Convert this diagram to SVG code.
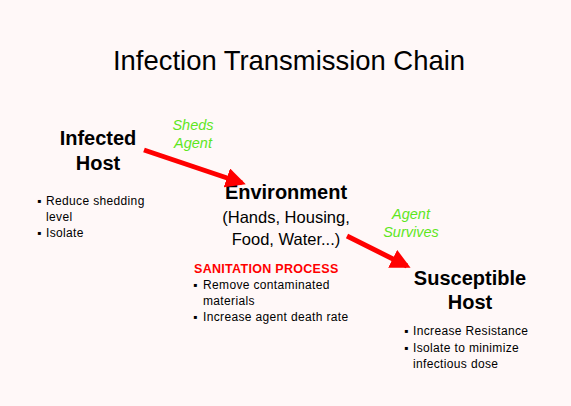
<svg xmlns="http://www.w3.org/2000/svg" width="571" height="406" viewBox="0 0 571 406">
<defs>
<style>
text{font-family:"Liberation Sans",Arial,sans-serif;fill:#000}
.title{font-size:28px}
.node{font-size:20px;font-weight:bold;text-anchor:middle}
.sub{font-size:16.5px;text-anchor:middle}
.lbl{font-size:14.5px;font-style:italic;fill:#5EE61E;text-anchor:middle}
.b{font-size:12px;letter-spacing:0.35px}
.red{font-size:12.5px;font-weight:bold;fill:#FF0000;letter-spacing:0.3px}
.arrow{stroke:#FF0000;stroke-width:5;fill:none}
</style>
<marker id="ah" viewBox="0 0 10 10" refX="8" refY="5" markerWidth="4" markerHeight="4" orient="auto" markerUnits="strokeWidth">
<path d="M0,0 L10,5 L0,10 z" fill="#FF0000"/>
</marker>
</defs>
<rect width="571" height="406" fill="#FFF8F8"/>
<text class="title" x="289" y="70" text-anchor="middle" textLength="352" lengthAdjust="spacingAndGlyphs">Infection Transmission Chain</text>
<g id="infected-host">
<text class="node" x="98" y="145">Infected</text>
<text class="node" x="98" y="170">Host</text>
<text class="b" x="37" y="205">▪</text><text class="b" x="46" y="205">Reduce shedding</text>
<text class="b" x="46" y="221">level</text>
<text class="b" x="37" y="237">▪</text><text class="b" x="46" y="237">Isolate</text>
</g>
<g id="environment">
<text class="node" x="286" y="199">Environment</text>
<text class="sub" x="286" y="223">(Hands, Housing,</text>
<text class="sub" x="286" y="245">Food, Water...)</text>
<text class="red" x="194" y="273">SANITATION PROCESS</text>
<text class="b" x="193" y="289">▪</text><text class="b" x="203" y="289">Remove contaminated</text>
<text class="b" x="203" y="305">materials</text>
<text class="b" x="193" y="321">▪</text><text class="b" x="203" y="321">Increase agent death rate</text>
</g>
<g id="susceptible-host">
<text class="node" x="470" y="285">Susceptible</text>
<text class="node" x="470" y="309">Host</text>
<text class="b" x="404" y="335">▪</text><text class="b" x="413" y="335">Increase Resistance</text>
<text class="b" x="404" y="352">▪</text><text class="b" x="413" y="352">Isolate to minimize</text>
<text class="b" x="413" y="368">infectious dose</text>
</g>
<g id="connectors">
<line class="arrow" x1="144" y1="150" x2="242" y2="183" marker-end="url(#ah)"/>
<text class="lbl" x="193" y="130">Sheds</text>
<text class="lbl" x="193" y="148">Agent</text>
<line class="arrow" x1="347" y1="236" x2="407" y2="266" marker-end="url(#ah)"/>
<text class="lbl" x="411" y="219">Agent</text>
<text class="lbl" x="411" y="237">Survives</text>
</g>
</svg>
